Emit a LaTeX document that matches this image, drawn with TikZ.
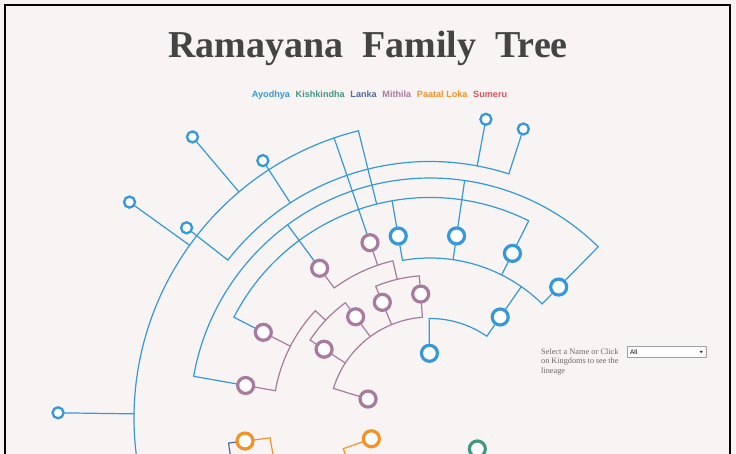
\documentclass[tikz,border=0pt]{standalone}
\usepackage{fontspec}
\setmainfont{Liberation Serif}
\setsansfont{Liberation Sans}
\usepackage{tikz}
\usetikzlibrary{calc,positioning}
\definecolor{bgcolor}{RGB}{248,244,243}
\definecolor{titlecolor}{RGB}{68,68,68}
\definecolor{hintcolor}{RGB}{105,105,105}
\definecolor{ayodhyacolor}{RGB}{52,152,219}
\definecolor{kishkindhacolor}{RGB}{70,150,132}
\definecolor{lankacolor}{RGB}{80,108,158}
\definecolor{mithilacolor}{RGB}{168,122,158}
\definecolor{paatalcolor}{RGB}{242,146,42}
\definecolor{sumerucolor}{RGB}{220,82,96}

\begin{document}
\begin{tikzpicture}[
        x=1pt, y=1pt,
        person/.style={circle, fill=white, line width=3.2pt, minimum size=16pt, inner sep=0pt},
        ayodhya/.style={person, draw=ayodhyacolor},
        mithila/.style={person, draw=mithilacolor},
        paatal/.style={person, draw=paatalcolor},
        kishkindha/.style={person, draw=kishkindhacolor},
        leaf/.style={circle, fill=white, draw=ayodhyacolor, line width=2.3pt, minimum size=11pt, inner sep=0pt},
        link/.style={line width=1.2pt, line cap=round},
        kingdom/.style={inner sep=0pt, font=\sffamily\bfseries\fontsize{9.1}{11}\selectfont},
        hint/.style={anchor=base west, inner sep=0pt, text=hintcolor, font=\fontsize{8.3}{10}\selectfont}
    ]
    \clip (0,0) rectangle (736,454);
    \fill[bgcolor] (0,0) rectangle (736,454);
    \draw[line width=1.2pt] (5,-2) -- (5,449) -- (730,449) -- (730,-2);

    \node[anchor=base, text=titlecolor, font=\bfseries\fontsize{38}{40}\selectfont] (title) at (368,396) {Ramayana\ \ Family\ \ Tree};

    % kingdoms
    \node[kingdom, anchor=base west, text=ayodhyacolor] (ayodhya) at (251.7,356.7) {Ayodhya};
    \node[kingdom, base right=5.3pt of ayodhya, text=kishkindhacolor] (kishkindha) {Kishkindha};
    \node[kingdom, base right=5.3pt of kishkindha, text=lankacolor] (lanka) {Lanka};
    \node[kingdom, base right=5.3pt of lanka, text=mithilacolor] (mithila) {Mithila};
    \node[kingdom, base right=5.3pt of mithila, text=paatalcolor] (paatal) {Paatal Loka};
    \node[kingdom, base right=5.3pt of paatal, text=sumerucolor] (sumeru) {Sumeru};

    % lineage picker
    \node[hint] (hint1) at (541,99.7) {\makebox[77.3pt][s]{Select a Name or Click}};
    \node[hint] (hint2) at (541,90.2) {\makebox[77.3pt][s]{on Kingdoms to see the}};
    \node[hint] (hint3) at (541,80.7) {lineage};
    \node[draw=gray!75, fill=white, line width=0.8pt, minimum width=78.3pt, minimum height=10.6pt, inner sep=0pt] (picker) at (666.85,102) {};
    \node[anchor=west, inner sep=0pt, font=\sffamily\fontsize{6.5}{7}\selectfont] (pickall) at ([xshift=2.5pt]picker.west) {All};
    \fill[black!80] ([xshift=-7pt,yshift=1.2pt]picker.east) -- ++(3.6pt,0) -- ++(-1.8pt,-2.4pt) -- cycle;

    \begin{scope}[shift={(430,36)}]
        \coordinate (hub) at (0,0);

        % Ayodhya
        \node[ayodhya] (b6) at (90.5:64.7) {};
        \node[ayodhya] (b5) at (55.2:123) {};
        \node[ayodhya] (b1) at (99.9:184.7) {};
        \node[ayodhya] (b2) at (81.7:184) {};
        \node[ayodhya] (b3) at (63.4:184.1) {};
        \node[ayodhya] (b4) at (45.5:183.6) {};
        \node[leaf] (l1) at (179.2:372) {};
        \node[leaf] (l2) at (144.3:370) {};
        \node[leaf] (l3) at (142:308.9) {};
        \node[leaf] (l4) at (130.2:368) {};
        \node[leaf] (l5) at (123:306.9) {};
        \node[leaf] (l6) at (79.4:303.9) {};
        \node[leaf] (l7) at (72.1:303.7) {};

        % Mithila
        \node[mithila] (p1) at (108.9:185.3) {};
        \node[mithila] (p2) at (126.4:186) {};
        \node[mithila] (p3) at (94.3:124.3) {};
        \node[mithila] (p4) at (112.4:125.1) {};
        \node[mithila] (p5) at (126.3:125.6) {};
        \node[mithila] (p6) at (147:126.3) {};
        \node[mithila] (p7) at (163:64.8) {};
        \node[mithila] (p8) at (152.8:187.4) {};
        \node[mithila] (p9) at (170:187.2) {};

        % Paatal Loka and Kishkindha
        \node[paatal] (o1) at (187.1:186.4) {};
        \node[paatal] (o2) at (199.5:62.2) {};
        \node[kishkindha] (g1) at (326.8:56.6) {};

        % Ayodhya links
        \draw[link, ayodhyacolor] (55.2:99.5) arc[start angle=55.2, end angle=90.5, radius=99.5];
        \draw[link, ayodhyacolor] (45.5:160) arc[start angle=45.5, end angle=99.9, radius=160];
        \draw[link, ayodhyacolor] (63.4:220.5) arc[start angle=63.4, end angle=152.8, radius=220.5];
        \draw[link, ayodhyacolor] (45.5:240) arc[start angle=45.5, end angle=170, radius=240];
        \draw[link, ayodhyacolor] (72.1:256.5) arc[start angle=72.1, end angle=142, radius=256.5];
        \draw[link, ayodhyacolor] (104:220.5) -- (104:296) arc[start angle=104, end angle=215, radius=296];
        \draw[link, ayodhyacolor] (b6) -- ($(hub)!99.5pt!(b6)$);
        \draw[link, ayodhyacolor] (b5) -- ($(hub)!99.5pt!(b5)$);
        \draw[link, ayodhyacolor] (b5) -- ($(hub)!160pt!(b5)$);
        \draw[link, ayodhyacolor] (b1) -- ($(hub)!160pt!(b1)$);
        \draw[link, ayodhyacolor] (b1) -- ($(hub)!220.5pt!(b1)$);
        \draw[link, ayodhyacolor] (b2) -- ($(hub)!160pt!(b2)$);
        \draw[link, ayodhyacolor] (b2) -- ($(hub)!240pt!(b2)$);
        \draw[link, ayodhyacolor] (b3) -- ($(hub)!160pt!(b3)$);
        \draw[link, ayodhyacolor] (b3) -- ($(hub)!220.5pt!(b3)$);
        \draw[link, ayodhyacolor] (b4) -- ($(hub)!160pt!(b4)$);
        \draw[link, ayodhyacolor] (b4) -- ($(hub)!240pt!(b4)$);
        \draw[link, ayodhyacolor] (p1) -- ($(hub)!296pt!(p1)$);
        \draw[link, ayodhyacolor] (p2) -- ($(hub)!240pt!(p2)$);
        \draw[link, ayodhyacolor] (p8) -- ($(hub)!220.5pt!(p8)$);
        \draw[link, ayodhyacolor] (p9) -- ($(hub)!240pt!(p9)$);
        \draw[link, ayodhyacolor] (l3) -- ($(hub)!256.5pt!(l3)$);
        \draw[link, ayodhyacolor] (l5) -- ($(hub)!256.5pt!(l5)$);
        \draw[link, ayodhyacolor] (l6) -- ($(hub)!256.5pt!(l6)$);
        \draw[link, ayodhyacolor] (l7) -- ($(hub)!256.5pt!(l7)$);
        \draw[link, ayodhyacolor] (l1) -- ($(hub)!296pt!(l1)$);
        \draw[link, ayodhyacolor] (l2) -- ($(hub)!296pt!(l2)$);
        \draw[link, ayodhyacolor] (l4) -- ($(hub)!296pt!(l4)$);

        % Mithila links
        \draw[link, mithilacolor] (94.3:101) arc[start angle=94.3, end angle=163, radius=101];
        \draw[link, mithilacolor] (94.3:142.5) arc[start angle=94.3, end angle=112.4, radius=142.5];
        \draw[link, mithilacolor] (103.3:142.5) -- (103.3:161.5) arc[start angle=103.3, end angle=126.4, radius=161.5];
        \draw[link, mithilacolor] (126.3:143) arc[start angle=126.3, end angle=147, radius=143];
        \draw[link, mithilacolor] (136.9:143) -- (136.9:157) arc[start angle=136.9, end angle=170, radius=157];
        \draw[link, mithilacolor] (p7) -- ($(hub)!101pt!(p7)$);
        \draw[link, mithilacolor] (p3) -- ($(hub)!101pt!(p3)$);
        \draw[link, mithilacolor] (p3) -- ($(hub)!142.5pt!(p3)$);
        \draw[link, mithilacolor] (p4) -- ($(hub)!101pt!(p4)$);
        \draw[link, mithilacolor] (p4) -- ($(hub)!142.5pt!(p4)$);
        \draw[link, mithilacolor] (p5) -- ($(hub)!101pt!(p5)$);
        \draw[link, mithilacolor] (p5) -- ($(hub)!143pt!(p5)$);
        \draw[link, mithilacolor] (p6) -- ($(hub)!101pt!(p6)$);
        \draw[link, mithilacolor] (p6) -- ($(hub)!143pt!(p6)$);
        \draw[link, mithilacolor] (p1) -- ($(hub)!161.5pt!(p1)$);
        \draw[link, mithilacolor] (p2) -- ($(hub)!161.5pt!(p2)$);
        \draw[link, mithilacolor] (p8) -- ($(hub)!157pt!(p8)$);
        \draw[link, mithilacolor] (p9) -- ($(hub)!157pt!(p9)$);

        % Paatal Loka and Lanka links
        \draw[link, paatalcolor] (o1) -- ($(hub)!161pt!(o1)$) arc[start angle=187.1, end angle=200, radius=161];
        \draw[link, paatalcolor] (o2) -- ($(hub)!92pt!(o2)$) arc[start angle=199.5, end angle=215, radius=92];
        \draw[link, lankacolor] (o1) -- ($(hub)!203pt!(o1)$) arc[start angle=187.1, end angle=200, radius=203];
    \end{scope}
\end{tikzpicture}
\end{document}
